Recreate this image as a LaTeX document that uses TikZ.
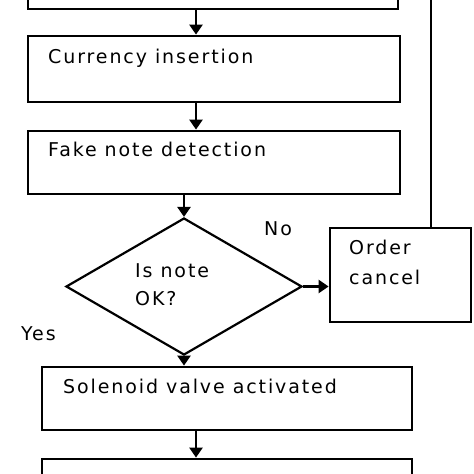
\documentclass[tikz,border=0pt]{standalone}
\usepackage{fontspec}
\setmainfont{DejaVu Sans}[LetterSpace=10]
\usetikzlibrary{shapes.geometric,arrows.meta}

\begin{document}
\begin{tikzpicture}[x=1pt,y=-1pt,
    box/.style={draw, line width=2.8pt, inner sep=0pt},
    arr/.style={line width=2.6pt, -{Triangle[length=10pt,width=13pt]}},
    txt/.style={anchor=base west, inner sep=0pt, font=\fontsize{19}{23}\selectfont}]
    \useasboundingbox (0,0) rectangle (474,474);

    % Le caselle del diagramma
    \node[box, minimum width=370pt, minimum height=58pt] (start) at (213,-20) {};
    \node[box, minimum width=372pt, minimum height=66pt] (insert) at (214,69) {};
    \node[box, minimum width=372pt, minimum height=63pt] (detect) at (214,162.5) {};
    \node[draw, diamond, line width=2.2pt, inner sep=0pt, minimum width=236pt, minimum height=137pt] (check) at (184,286.5) {};
    \node[box, minimum width=141pt, minimum height=94pt] (cancel) at (400.5,275) {};
    \node[box, minimum width=370pt, minimum height=63pt] (valve) at (227,398.5) {};
    \node[box, minimum width=370pt, minimum height=82pt] (next) at (227,500) {};

    % Testi
    \node[txt] (tinsert) at (48,63) {Currency insertion};
    \node[txt] (tdetect) at (48,156) {Fake note detection};
    \node[txt] (tcheck1) at (135,277) {Is note};
    \node[txt] (tcheck2) at (135,305) {OK?};
    \node[txt] (tno) at (264,235) {No};
    \node[txt] (tyes) at (21,340) {Yes};
    \node[txt] (tcancel1) at (349,254) {Order};
    \node[txt] (tcancel2) at (349,284) {cancel};
    \node[txt] (tvalve) at (63,393) {Solenoid valve activated};

    % Frecce
    \coordinate (ax) at (196,0);
    \coordinate (back) at (431,-10);
    \draw[arr] (start.south -| ax) -- (insert.north -| ax);
    \draw[arr] (insert.south -| ax) -- (detect.north -| ax);
    \draw[arr] (detect.south -| check.north) -- (check.north);
    \draw[arr] (check.east) -- (check.east -| cancel.west);
    \draw[arr] (check.south) -- (valve.north -| check.south);
    \draw[arr] (valve.south -| ax) -- (next.north -| ax);

    % Ritorno all'inizio
    \draw[line width=2.4pt] (cancel.north -| back) -- (back);
\end{tikzpicture}
\end{document}
